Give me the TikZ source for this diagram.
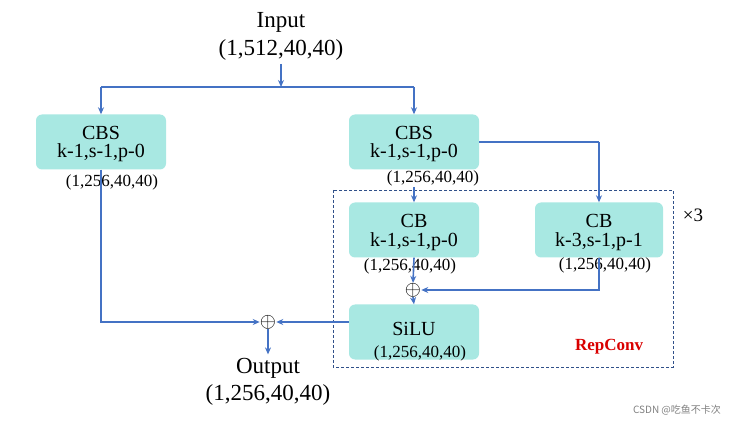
\documentclass[tikz,border=0pt]{standalone}
\usepackage{fontspec}
\setmainfont{Liberation Serif}
\newfontfamily\cjk{Noto Sans CJK SC}
\usetikzlibrary{arrows.meta}
\definecolor{boxc}{HTML}{A8E8E2}
\definecolor{linec}{HTML}{4472C4}
\tikzset{
  box/.style={draw=none,fill=boxc,rounded corners=6pt,minimum width=130pt,minimum height=55pt,inner sep=0pt},
  conn/.style={draw=linec,line width=1.6pt,-{Stealth[length=7pt,width=6pt]}},
  ln/.style={draw=linec,line width=1.6pt},
  lab/.style={font=\fontsize{17}{18}\selectfont},
  bt/.style={font=\fontsize{20}{20}\selectfont,align=center},
  big/.style={font=\fontsize{23}{24}\selectfont}
}
\begin{document}
\begin{tikzpicture}[x=1pt,y=-1pt]
\useasboundingbox (0,0) rectangle (745,422);
\node[big] (in1) at (281,22) {Input};
\node[big] (in2) at (281,50) {(1,512,40,40)};
\coordinate (j) at (281,87);
\node[box] (L) at (101,142) {};
\node[bt] (Lt) at (101,133) {CBS};
\node[bt] (Lb) at (101,153) {k-1,s-1,p-0};
\node[lab] (Ll) at (112,182) {(1,256,40,40)};
\node[box] (R) at (414,142) {};
\node[bt] (Rt) at (414,133) {CBS};
\node[bt] (Rb) at (414,153) {k-1,s-1,p-0};
\node[lab] (Rl) at (433,178) {(1,256,40,40)};
\draw[densely dashed,draw=linec!70!black,line width=0.8pt] (333,190) rectangle (673,367);
\node[box] (M) at (414,230) {};
\node[bt] (Mt) at (414,221) {CB};
\node[bt] (Mb) at (414,242) {k-1,s-1,p-0};
\node[lab] (Ml) at (410,266) {(1,256,40,40)};
\node[box,minimum width=128pt] (C) at (599,230) {};
\node[bt] (Ct) at (599,221) {CB};
\node[bt] (Cb) at (599,242) {k-3,s-1,p-1};
\node[lab] (Cl) at (605,265) {(1,256,40,40)};
\node[font=\fontsize{19}{20}\selectfont] (x3) at (693,215) {×3};
\node[inner sep=0pt,font=\fontsize{20}{20}\selectfont] (p1) at (413,290) {$\oplus$};
\node[box] (S) at (414,332) {};
\node[bt] (St) at (414,329) {SiLU};
\node[lab] (Sl) at (420,353) {(1,256,40,40)};
\node[inner sep=0pt,font=\fontsize{20}{20}\selectfont] (p2) at (268,322) {$\oplus$};
\node[big] (o1) at (268,368) {Output};
\node[big] (o2) at (268,395) {(1,256,40,40)};
\node[text=red!85!black,font=\fontsize{17}{18}\selectfont\bfseries] (rc) at (609,347) {RepConv};
\node[text=gray,font=\fontsize{10}{11}\cjk] (wm) at (677,410) {CSDN @吃鱼不卡次};
\coordinate (lc) at (101,322);
\coordinate (rcn) at (599,290);
\draw[conn] (281,64) -- (j);
\draw[ln] (101,87) -- (414,87);
\draw[conn] (101,87) -- (L.north);
\draw[conn] (414,87) -- (R.north);
\draw[ln] (R.east) -- (599,142);
\draw[conn] (599,142) -- (C.north);
\draw[conn] (414,187) -- (M.north);
\draw[conn] (M.south) -- (p1.north);
\draw[conn] (C.south) -- (rcn) -- (p1.east);
\draw[conn] (p1.south) -- (S.north);
\draw[conn] (S.west |- p2) -- (p2.east);
\draw[conn] (L.south) -- (lc) -- (p2.west);
\draw[conn] (p2.south) -- (o1.north);
\end{tikzpicture}
\end{document}
